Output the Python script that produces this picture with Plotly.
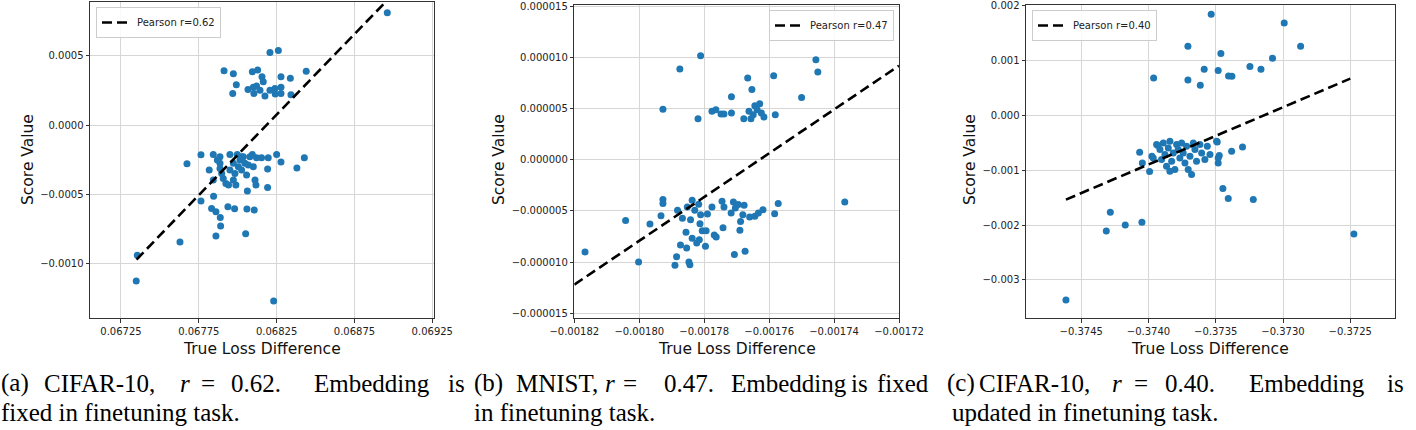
import plotly.graph_objects as go

# (a) CIFAR-10, embedding fixed
x_a = [0.068961, 0.068207, 0.068261, 0.067912, 0.067972, 0.067968, 0.067991, 0.068094,
       0.068128, 0.068156, 0.068066, 0.068100, 0.068104, 0.068143, 0.068175, 0.068164,
       0.068239, 0.068241, 0.068278, 0.068278, 0.068278, 0.068338, 0.068342, 0.068440,
       0.068121, 0.068207,
       0.067674, 0.067764, 0.067817, 0.067843, 0.067886, 0.067886, 0.067886, 0.067897,
       0.067843, 0.067907, 0.067924, 0.067950, 0.067941, 0.067972, 0.067982, 0.067988,
       0.067997, 0.068004, 0.068014, 0.068025, 0.068036, 0.068046, 0.068057, 0.068068,
       0.068094, 0.068100, 0.068121, 0.068153, 0.068196, 0.068250, 0.068278, 0.068192,
       0.068111, 0.068117, 0.068192, 0.068062, 0.068380, 0.068428, 0.067845, 0.067764,
       0.067832, 0.067860, 0.067888, 0.067890, 0.067860, 0.067937, 0.067980, 0.068059,
       0.068106, 0.068051, 0.067629, 0.067355, 0.067348, 0.068231,
       0.067869, 0.067950, 0.068025, 0.068078, 0.067972]
y_a = [0.000810, 0.000524, 0.000538, 0.000392, 0.000370, 0.000228, 0.000291, 0.000385,
       0.000397, 0.000349, 0.000257, 0.000272, 0.000228, 0.000252, 0.000209, 0.000313,
       0.000264, 0.000224, 0.000349, 0.000272, 0.000228, 0.000337, 0.000219, 0.000389,
       0.000281, 0.000252,
       -0.000279, -0.000214, -0.000325, -0.000212, -0.000228, -0.000276, -0.000313, -0.000349,
       -0.000397, -0.000385, -0.000421, -0.000212, -0.000433, -0.000276, -0.000349, -0.000433,
       -0.000212, -0.000300, -0.000252, -0.000325, -0.000228, -0.000276, -0.000361, -0.000288,
       -0.000212, -0.000300, -0.000236, -0.000236, -0.000236, -0.000212, -0.000267, -0.000317,
       -0.000397, -0.000433, -0.000450, -0.000476, -0.000310, -0.000236, -0.000514, -0.000548,
       -0.000601, -0.000625, -0.000666, -0.000728, -0.000801, -0.000589, -0.000603, -0.000606,
       -0.000613, -0.000784, -0.000844, -0.000940, -0.001125, -0.001269,
       -0.000252, -0.000325, -0.000228, -0.000228, -0.000397]
fit_x_a = [0.06735, 0.06896]
fit_y_a = [-0.00097, 0.00090]

# (b) MNIST, embedding fixed
x_b = [-0.0017811, -0.0017875, -0.0017927, -0.0017819, -0.0017776, -0.0017764, -0.0017748,
       -0.0017739, -0.0017716, -0.0017716, -0.0017678, -0.0017666, -0.0017653, -0.0017662,
       -0.0017656, -0.0017644, -0.0017637, -0.0017629, -0.0017624, -0.0017616, -0.0017649,
       -0.0017586, -0.0017581, -0.0017500, -0.0017456, -0.0017450,
       -0.0017367, -0.0018167, -0.0018042, -0.0018002, -0.0017967, -0.0017933, -0.0017927,
       -0.0017927, -0.0017890, -0.0017885, -0.0017882, -0.0017873, -0.0017867, -0.0017856,
       -0.0017854, -0.0017852, -0.0017847, -0.0017844, -0.0017842, -0.0017837, -0.0017837,
       -0.0017829, -0.0017823, -0.0017817, -0.0017815, -0.0017813, -0.0017811, -0.0017806,
       -0.0017796, -0.0017794, -0.0017790, -0.0017776, -0.0017769, -0.0017763, -0.0017745,
       -0.0017742, -0.0017739, -0.0017717, -0.0017710, -0.0017707, -0.0017704, -0.0017695,
       -0.0017688, -0.0017690, -0.0017681, -0.0017677, -0.0017674, -0.0017660, -0.0017644,
       -0.0017633, -0.0017619, -0.0017583, -0.0017572]
y_b = [1.015e-5, 8.85e-6, 4.91e-6, 4.00e-6, 4.72e-6, 4.88e-6, 4.46e-6,
       4.46e-6, 6.15e-6, 4.55e-6, 4.00e-6, 7.97e-6, 6.86e-6, 4.72e-6,
       4.00e-6, 5.27e-6, 4.88e-6, 5.47e-6, 4.55e-6, 4.16e-6, 4.39e-6,
       8.20e-6, 4.39e-6, 6.08e-6, 9.76e-6, 8.56e-6,
       -4.13e-6, -9.01e-6, -5.95e-6, -9.99e-6, -6.28e-6, -5.47e-6, -3.90e-6,
       -4.29e-6, -1.031e-5, -9.47e-6, -4.94e-6, -8.33e-6, -5.73e-6, -7.09e-6,
       -8.62e-6, -4.62e-6, -9.99e-6, -1.025e-5, -5.86e-6, -3.97e-6, -7.68e-6,
       -4.94e-6, -8.13e-6, -4.36e-6, -7.81e-6, -6.25e-6, -5.37e-6, -6.93e-6,
       -8.46e-6, -6.93e-6, -5.30e-6, -4.62e-6, -7.35e-6, -7.55e-6, -4.07e-6,
       -6.64e-6, -4.62e-6, -5.20e-6, -4.13e-6, -9.27e-6, -4.72e-6, -4.39e-6,
       -6.05e-6, -6.90e-6, -5.37e-6, -4.46e-6, -8.95e-6, -5.60e-6, -5.53e-6,
       -5.20e-6, -4.88e-6, -5.27e-6, -4.29e-6]
fit_x_b = [-0.00182, -0.00172]
fit_y_b = [-1.22e-5, 9.17e-6]

# (c) CIFAR-10, embedding updated
x_c = [-0.374614, -0.374314, -0.374284, -0.374173, -0.374049, -0.372473, -0.373534, -0.372991,
       -0.372869, -0.373707, -0.373462, -0.373078, -0.373962, -0.373707, -0.373615, -0.373586,
       -0.373482, -0.373405, -0.373380, -0.373246, -0.373164, -0.373447, -0.373407, -0.373221,
       -0.373301, -0.373382, -0.373489, -0.373474, -0.373482, -0.374066, -0.374046, -0.373992,
       -0.373930, -0.373975,
       -0.373940, -0.373915, -0.373890, -0.373878, -0.373853, -0.373841, -0.373828, -0.373816,
       -0.373804, -0.373791, -0.373779, -0.373767, -0.373754, -0.373742, -0.373729, -0.373717,
       -0.373705, -0.373692, -0.373680, -0.373667, -0.373655, -0.373643, -0.373618, -0.373605,
       -0.373581, -0.373563, -0.373543, -0.373494, -0.373482, -0.373841, -0.373866, -0.373903,
       -0.373965]
y_c = [-0.003364, -0.002105, -0.001764, -0.001995, -0.001947, -0.002159, 0.001849, 0.001691,
       0.001265, 0.001265, 0.001131, 0.001046, 0.000687, 0.000651, 0.000554, 0.000846,
       0.000821, 0.000724, 0.000718, 0.000894, 0.000846, -0.001332, -0.001515, -0.001533,
       -0.000572, -0.000651, -0.000481, -0.000730, -0.000864, -0.000669, -0.000864, -0.001022,
       -0.000547, -0.000742,
       -0.000529, -0.000620, -0.000499, -0.000712, -0.000590, -0.000468, -0.000833, -0.000681,
       -0.000985, -0.000529, -0.000620, -0.000773, -0.000499, -0.000681, -0.000864, -0.000560,
       -0.000985, -0.000742, -0.001077, -0.000499, -0.000620, -0.000833, -0.000529, -0.000681,
       -0.000803, -0.000560, -0.000712, -0.000468, -0.000773, -0.001016, -0.000925, -0.000803,
       -0.000773]
fit_x_c = [-0.374614, -0.3725]
fit_y_c = [-0.001533, 0.000675]

pearson = ["0.62", "0.47", "0.40"]

W, H = 1416, 430
BLUE = "#1f77b4"

fig = go.Figure()

panels = [
    (x_a, y_a, fit_x_a, fit_y_a, "legend"),
    (x_b, y_b, fit_x_b, fit_y_b, "legend2"),
    (x_c, y_c, fit_x_c, fit_y_c, "legend3"),
]
for i, (xs, ys, fx, fy, leg) in enumerate(panels):
    ax = "" if i == 0 else str(i + 1)
    fig.add_trace(go.Scatter(x=xs, y=ys, mode="markers", xaxis="x" + ax, yaxis="y" + ax,
                             marker=dict(color=BLUE, size=7), showlegend=False))
    fig.add_trace(go.Scatter(x=fx, y=fy, mode="lines", xaxis="x" + ax, yaxis="y" + ax,
                             line=dict(color="black", width=2.6, dash="10px,5px"),
                             name="Pearson r=" + pearson[i], legend=leg))

def px_x(p):
    return p / W

def px_y(p):
    return (H - p) / H

axis_common = dict(showgrid=True, gridcolor="#d6d6d6", gridwidth=1, zeroline=False,
                   showline=True, linecolor="#333333", linewidth=1, mirror=True,
                   ticks="outside", ticklen=3.5, tickcolor="#333333", automargin=False,
                   tickfont=dict(family="DejaVu Sans", size=10, color="#222222"))

fig.update_layout(
    xaxis=dict(domain=[px_x(90), px_x(434)], range=[0.067051, 0.069261], anchor="y",
               tick0=0.06725, dtick=0.0005, tickformat=".5f", **axis_common),
    yaxis=dict(domain=[px_y(318.3), px_y(1.7)], range=[-0.001394, 0.00089], anchor="x",
               tick0=0, dtick=0.0005, tickformat=".4f", **axis_common),
    xaxis2=dict(domain=[px_x(574.3), px_x(899)], range=[-0.00182, -0.00172], anchor="y2",
                tick0=-0.00182, dtick=0.00002, tickformat=".5f", **axis_common),
    yaxis2=dict(domain=[px_y(318.3), px_y(5)], range=[-1.549e-5, 1.51e-5], anchor="x2",
                tick0=0, dtick=0.000005, tickformat=".6f", **axis_common),
    xaxis3=dict(domain=[px_x(1026), px_x(1395.3)], range=[-0.374911, -0.372165], anchor="y3",
                tick0=-0.3745, dtick=0.0005, tickformat=".4f", **axis_common),
    yaxis3=dict(domain=[px_y(318.3), px_y(5)], range=[-0.003699, 0.002018], anchor="x3",
                tick0=0, dtick=0.001, tickformat=".3f", **axis_common),
    width=W, height=H,
    margin=dict(l=0, r=0, t=0, b=0, autoexpand=False),
    paper_bgcolor="white", plot_bgcolor="white",
)

leg_common = dict(bgcolor="rgba(255,255,255,0.85)", bordercolor="#cccccc", borderwidth=1,
                  font=dict(family="DejaVu Sans", size=10, color="#222222"),
                  yanchor="top", itemwidth=30)
fig.update_layout(
    legend=dict(x=px_x(96), y=px_y(7), xanchor="left", **leg_common),
    legend2=dict(x=px_x(894), y=px_y(10), xanchor="right", **leg_common),
    legend3=dict(x=px_x(1032), y=px_y(10), xanchor="left", **leg_common),
)

# axis titles
title_font = dict(family="DejaVu Sans", size=15.5, color="#111111")
for cx in [262, 737, 1210]:
    fig.add_annotation(text="True Loss Difference", x=px_x(cx), y=px_y(349), xref="paper",
                       yref="paper", showarrow=False, font=title_font,
                       xanchor="center", yanchor="middle")
for cx in [28, 499, 970]:
    fig.add_annotation(text="Score Value", x=px_x(cx), y=px_y(160), xref="paper",
                       yref="paper", showarrow=False, font=title_font, textangle=-90,
                       xanchor="center", yanchor="middle")

# sub-captions, laid out word by word to mimic justified text
cap_font = dict(family="Liberation Serif", size=25, color="black")
line1 = [("(a)", 0), ("CIFAR-10,", 43), ("<i>r</i>", 179), ("=", 200), ("0.62.", 230),
         ("Embedding", 313), ("is", 447),
         ("(b)", 473), ("MNIST,", 515), ("<i>r</i>", 604), ("=", 622), ("0.47.", 663),
         ("Embedding", 730), ("is", 850), ("fixed", 876),
         ("(c)", 946), ("CIFAR-10,", 978), ("<i>r</i>", 1111), ("=", 1133), ("0.40.", 1164),
         ("Embedding", 1248), ("is", 1386)]
line2 = [("fixed in finetuning task.", 0), ("in finetuning task.", 473),
         ("updated in finetuning task.", 951)]
for txt, lx in line1:
    fig.add_annotation(text=txt, x=px_x(lx), y=px_y(383), xref="paper", yref="paper",
                       showarrow=False, font=cap_font, xanchor="left", yanchor="middle",
                       borderpad=0)
for txt, lx in line2:
    fig.add_annotation(text=txt, x=px_x(lx), y=px_y(412), xref="paper", yref="paper",
                       showarrow=False, font=cap_font, xanchor="left", yanchor="middle",
                       borderpad=0)

# drop the browser's default body margin so the figure sits at the page origin
fig.write_html("out.html", config={"displayModeBar": False},
               post_script="document.body.style.margin='0';")
